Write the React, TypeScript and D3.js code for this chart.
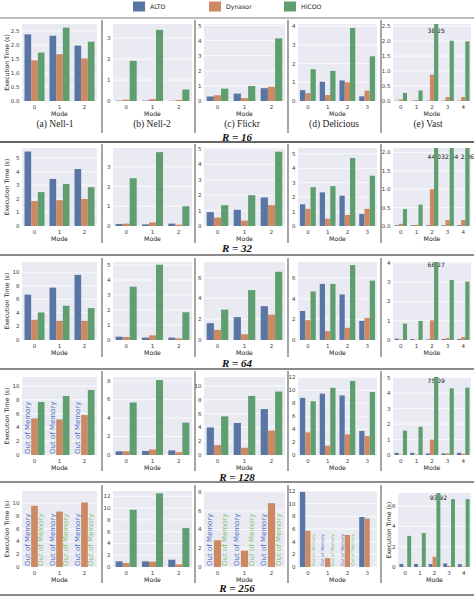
import React from "react";
import * as d3 from "d3";

// ---------- data ----------
const seriesNames = ["ALTO", "Dynasor", "HiCOO"];
const captions = ["(a) Nell-1", "(b) Nell-2", "(c) Flickr", "(d) Delicious", "(e) Vast"];
const rankLabels = ["16", "32", "64", "128", "256"];
const modes3 = ["0", "1", "2"];
const modes4 = ["0", "1", "2", "3"];
const modes5 = ["0", "1", "2", "3", "4"];
const OOM = null; // "Out of Memory"

// rows: R = 16, 32, 64, 128, 256
const nell1ALTO = [[2.38, 2.33, 1.98], [5.49, 3.47, 4.2], [6.68, 7.72, 9.6], [OOM, OOM, OOM], [OOM, OOM, OOM]];
const nell1Dyn = [[1.45, 1.67, 1.52], [1.84, 1.9, 2.0], [2.97, 2.82, 2.82], [5.3, 5.15, 5.8], [9.58, 8.68, 10.1]];
const nell1HiCOO = [[1.73, 2.62, 2.12], [2.5, 3.1, 2.86], [4.06, 5.05, 4.7], [7.68, 8.55, 9.42], [OOM, OOM, OOM]];
const nell1YMax = [2.75, 5.75, 11.5, 11.3, 11.9];
const nell1Step = [0.5, 1, 2, 2, 2];

const nell2ALTO = [[0.02, 0.02, 0.01], [0.1, 0.08, 0.12], [0.22, 0.16, 0.16], [0.4, 0.43, 0.5], [0.96, 0.96, 1.24]];
const nell2Dyn = [[0.06, 0.09, 0.05], [0.12, 0.18, 0.07], [0.2, 0.31, 0.11], [0.4, 0.6, 0.3], [0.68, 0.9, 0.45]];
const nell2HiCOO = [[1.92, 3.4, 0.55], [2.42, 3.74, 1.0], [3.55, 5.02, 1.85], [5.68, 8.1, 3.5], [9.72, 12.5, 6.6]];
const nell2YMax = [3.68, 3.95, 5.2, 8.43, 12.9];
const nell2Step = [1, 1, 1, 2, 2];

const flickrALTO = [[0.3, 0.49, 0.85], [0.9, 1.05, 1.85], [1.62, 2.2, 3.25], [4.0, 4.64, 6.65], [OOM, OOM, OOM]];
const flickrDyn = [[0.38, 0.19, 0.94], [0.55, 0.35, 1.35], [0.97, 0.55, 2.43], [1.43, 1.05, 3.54], [2.85, 1.74, 6.8]];
const flickrHiCOO = [[0.82, 0.99, 4.15], [1.35, 2.0, 4.82], [2.92, 4.8, 6.56], [5.6, 8.56, 9.19], [OOM, OOM, OOM]];
const flickrYMax = [5.1, 5.06, 7.5, 11.3, 8.1];
const flickrStep = [1, 1, 2, 2, 2];

const deliciousALTO = [[0.58, 1.03, 1.1, 0.25], [1.5, 2.33, 2.1, 0.83], [2.81, 5.43, 4.41, 1.85], [8.83, 9.47, 9.2, 3.72], [11.85, OOM, OOM, 7.9]];
const deliciousDyn = [[0.42, 0.32, 1.0, 0.55], [1.19, 0.5, 0.76, 1.19], [1.92, 0.86, 1.18, 2.14], [3.5, 1.44, 3.19, 2.93], [5.73, 1.4, 5.05, 7.65]];
const deliciousHiCOO = [[1.7, 1.61, 3.91, 2.39], [2.69, 2.76, 4.71, 3.48], [4.7, 5.43, 7.25, 5.75], [8.3, 10.37, 11.44, 9.73], [OOM, OOM, OOM, 0]];
const deliciousYMax = [4.12, 5.4, 7.55, 12.05, 12.0];
const deliciousStep = [1, 1, 2, 2, 2];

const vastALTO = [[0.01, 0.01, 0.01, 0.01, 0.01], [0.02, 0.02, 0.02, 0.02, 0.02], [0.07, 0.05, 0.03, 0.05, 0.05], [0.14, 0.14, 0.1, 0.1, 0.14], [0.3, 0.3, 0.3, 0.35, 0.28]];
const vastDyn = [[0.05, 0.03, 0.88, 0.13, 0.13], [0.06, 0.03, 1.0, 0.16, 0.16], [0.03, 0.02, 1.02, 0.1, 0.15], [0.03, 0.03, 1.0, 0.1, 0.08], [0.02, 0.03, 1.0, 0.1, 0.05]];
const vastHiCOO = [[0.27, 0.35, 38.25, 2.01, 1.99], [0.46, 0.58, 44.03, 2.34, 2.36], [0.85, 0.99, 66.27, 3.12, 3.03], [1.58, 1.82, 75.09, 4.32, 4.36], [3.07, 3.35, 93.92, 6.7, 6.7]];
const vastYMax = [2.57, 2.12, 4.05, 5.05, 7.3];
const vastStep = [0.5, 0.5, 1, 1, 2];

const panelsData = [
  { modes: modes3, s: [nell1ALTO, nell1Dyn, nell1HiCOO], yMax: nell1YMax, step: nell1Step },
  { modes: modes3, s: [nell2ALTO, nell2Dyn, nell2HiCOO], yMax: nell2YMax, step: nell2Step },
  { modes: modes3, s: [flickrALTO, flickrDyn, flickrHiCOO], yMax: flickrYMax, step: flickrStep },
  { modes: modes4, s: [deliciousALTO, deliciousDyn, deliciousHiCOO], yMax: deliciousYMax, step: deliciousStep },
  { modes: modes5, s: [vastALTO, vastDyn, vastHiCOO], yMax: vastYMax, step: vastStep },
];

// ---------- style / layout ----------
const barColors = ["#5875A3", "#CC8963", "#5F9E6E"];
const oomColors = ["#4a6fc8", "", "#7cc36b"];
const SANS = "DejaVu Sans, sans-serif";
const SERIF = "Liberation Serif, Times New Roman, serif";
const panelX = [[22, 97], [113, 192], [204, 285], [298, 377], [393, 471]];
const rowTop = [24, 148, 262, 377, 491];
const rowBase = [101, 226, 340, 455, 567];
const rankY = [137, 248, 363, 477, 588];
const hSeps = [142, 255, 369, 482, 595];
const vSepRange = [[20, 133], [144, 243], [258, 357], [371, 471], [485, 583]];
const vSepX = [102, 195, 288, 381];
const captionX = [55, 152, 242, 334, 428];
const annotDy = [9, 11, 5, 6, 6.5];
const oomFont = [7, 7, 7, 4.3, 7];

function Panel({ r, c }: { r: number; c: number }) {
  const pd = panelsData[c];
  let [x0, x1] = panelX[c];
  let top = rowTop[r];
  const base = rowBase[r];
  if (r === 4 && c === 4) {
    x0 = 398;
    top = 493;
  }
  const n = pd.modes.length;
  const xs = d3.scaleLinear().domain([-0.5, n - 0.5]).range([x0, x1]);
  const ys = d3.scaleLinear().domain([0, pd.yMax[r]]).range([base, top]).clamp(true);
  const step = pd.step[r];
  const ticks = d3.range(0, pd.yMax[r] + 1e-9, step);
  const fmt = step < 1 ? d3.format(".1f") : d3.format("d");
  const groupW = 0.8;
  const bw = groupW / 3;
  const wpx = xs(bw) - xs(0);
  const showYLabel = c === 0 || (r === 4 && c === 4);
  const yLabelX = c === 0 ? 6 : 388;

  const bars: React.ReactNode[] = [];
  const texts: React.ReactNode[] = [];
  const annots: React.ReactNode[] = [];
  pd.s.forEach((ser, si) => {
    const vals = ser[r];
    vals.forEach((v, mi) => {
      const cx = xs(mi - groupW / 2 + bw * (si + 0.5));
      if (v === null) {
        texts.push(
          <text
            key={`o${si}-${mi}`}
            transform={`translate(${cx},${base - 1}) rotate(-90)`}
            textAnchor="start"
            dominantBaseline="central"
            fontFamily={SANS}
            fontSize={oomFont[c]}
            fill={oomColors[si]}
          >
            Out of Memory
          </text>
        );
        return;
      }
      if (v <= 0) return;
      bars.push(
        <rect
          key={`b${si}-${mi}`}
          x={cx - wpx / 2}
          y={ys(v)}
          width={wpx}
          height={base - ys(v)}
          fill={barColors[si]}
        />
      );
      if (v > pd.yMax[r]) {
        annots.push(
          <text
            key={`a${si}-${mi}`}
            x={cx}
            y={top + annotDy[r]}
            textAnchor="middle"
            fontFamily={SANS}
            fontSize={6}
            fill="#111"
          >
            {String(v.toFixed(2))}
          </text>
        );
      }
    });
  });

  return (
    <g>
      <rect x={x0} y={top} width={x1 - x0} height={base - top} fill="#EAEAF2" />
      {ticks.map((t) => (
        <line key={`g${t}`} x1={x0} x2={x1} y1={ys(t)} y2={ys(t)} stroke="#fff" strokeWidth={0.8} />
      ))}
      {annots}
      {bars}
      {texts}
      {ticks.map((t) => (
        <text
          key={`t${t}`}
          x={x0 - 2.5}
          y={ys(t)}
          textAnchor="end"
          dominantBaseline="central"
          fontFamily={SANS}
          fontSize={5.5}
          fill="#3a3a3a"
        >
          {fmt(t)}
        </text>
      ))}
      {pd.modes.map((m, i) => (
        <text
          key={`x${m}`}
          x={xs(i)}
          y={base + 5.5}
          textAnchor="middle"
          dominantBaseline="central"
          fontFamily={SANS}
          fontSize={5.5}
          fill="#3a3a3a"
        >
          {m}
        </text>
      ))}
      <text
        x={(x0 + x1) / 2}
        y={base + 12}
        textAnchor="middle"
        dominantBaseline="central"
        fontFamily={SANS}
        fontSize={6.2}
        fill="#262626"
      >
        Mode
      </text>
      {showYLabel && (
        <text
          transform={`translate(${yLabelX},${(top + base) / 2}) rotate(-90)`}
          textAnchor="middle"
          dominantBaseline="central"
          fontFamily={SANS}
          fontSize={6.1}
          fill="#262626"
        >
          Execution Time (s)
        </text>
      )}
    </g>
  );
}

export default function App() {
  const legendX = [133, 209, 284];
  return (
    <svg
      width={474}
      height={603}
      viewBox="0 0 474 603"
      style={{ position: "absolute", left: 0, top: 0, background: "#fff" }}
    >
      {/* legend */}
      {seriesNames.map((s, i) => (
        <g key={s}>
          <rect x={legendX[i]} y={1.5} width={12} height={10} fill={barColors[i]} />
          <text
            x={legendX[i] + 17}
            y={6.5}
            dominantBaseline="central"
            fontFamily={SANS}
            fontSize={6.2}
            fill="#262626"
          >
            {s}
          </text>
        </g>
      ))}
      <line x1={0} x2={474} y1={18} y2={18} stroke="#bdbdbd" strokeWidth={2} />

      {rankLabels.map((rl, r) => (
        <g key={rl}>
          {vSepX.map((x) => (
            <line key={x} x1={x} x2={x} y1={vSepRange[r][0]} y2={vSepRange[r][1]} stroke="#6a6a6a" strokeWidth={1.2} />
          ))}
          {captions.map((_, c) => (
            <Panel key={c} r={r} c={c} />
          ))}
          <text
            x={237}
            y={rankY[r]}
            textAnchor="middle"
            dominantBaseline="central"
            fontFamily={SERIF}
            fontSize={11}
            fontWeight="bold"
            fontStyle="italic"
            fill="#111"
          >
            {`R = ${rl}`}
          </text>
          <line
            x1={0}
            x2={474}
            y1={hSeps[r]}
            y2={hSeps[r]}
            stroke={r === 0 ? "#333" : "#666"}
            strokeWidth={1.6}
          />
        </g>
      ))}

      {captions.map((cap, c) => (
        <text
          key={cap}
          x={captionX[c]}
          y={124}
          textAnchor="middle"
          dominantBaseline="central"
          fontFamily={SERIF}
          fontSize={9.5}
          fill="#222"
        >
          {cap}
        </text>
      ))}
    </svg>
  );
}
